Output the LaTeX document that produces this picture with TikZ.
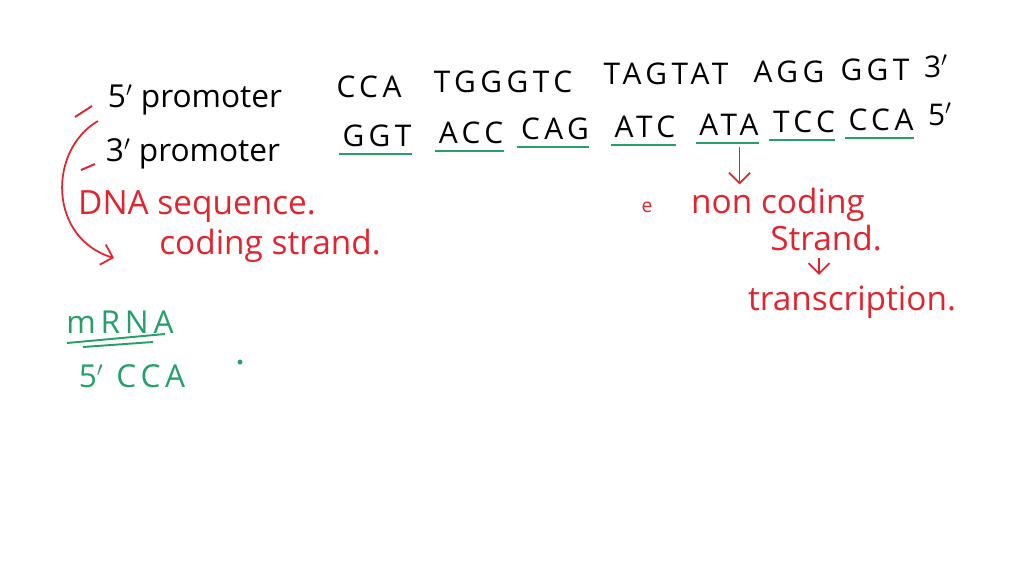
\documentclass[tikz,border=0pt]{standalone}
\usepackage{fontspec}
\setmainfont{Open Sans}
\newfontfamily\seqfont[LetterSpace=15]{Open Sans}
\definecolor{InkRed}{RGB}{226,36,46}
\definecolor{InkGreen}{RGB}{36,160,104}
\usetikzlibrary{arrows.meta,positioning}

\begin{document}
\begin{tikzpicture}[x=0.02cm,y=-0.02cm,
    seq/.style={inner sep=0pt,font=\seqfont\fontsize{17}{19}\selectfont},
    lbl/.style={inner sep=0pt,font=\fontsize{18}{20}\selectfont},
    note/.style={inner sep=0pt,text=InkRed,font=\fontsize{19}{21}\selectfont},
    rna/.style={inner sep=0pt,text=InkGreen,font=\seqfont\fontsize{18}{20}\selectfont},
    uline/.style={InkGreen,line width=1.1pt},
    arr/.style={-{Straight Barb[length=6pt,width=12pt]},InkRed,line width=1pt},
    tick/.style={InkRed,line width=1.1pt}]
    \useasboundingbox (0,0) rectangle (1024,576);

    % strand labels
    \node[lbl] (p5) at (195,100) {5$'$ promoter};
    \node[lbl] (p3) at (193,154) {3$'$ promoter};
    \draw[tick] (75,117) -- (92,106);
    \draw[tick] (81,170) -- (95,164);

    % top strand
    \foreach \name/\x/\y/\txt in {t1/369/87/CCA, t2/503/82/TGGGTC, t3/666/74/TAGTAT,
                                  t4/789/72/AGG, t5/875/70/GGT, t6/936/66/3$'$}
      \node[seq] (\name) at (\x,\y) {\txt};

    % bottom strand, codons underlined
    \foreach \name/\x/\y/\txt in {b1/377/136/GGT, b2/471/133/ACC, b3/555/129/CAG,
                                  b4/645/127/ATC, b5/729/125/ATA, b6/804/122/TCC, b7/881/120/CCA}{
      \node[seq] (\name) at (\x,\y) {\txt};
      \draw[uline] ([xshift=-2pt,yshift=-4pt]\name.south west) -- ([yshift=-4pt]\name.south east);
    }
    \node[seq] (b8) at (940,114) {5$'$};

    % red notes
    \node[note] (dna) at (197,207) {DNA sequence.};
    \node[note] (cod) at (270,246) {coding strand.};
    \coordinate (bend) at (98,121);
    \coordinate (hook) at (114,258);
    \draw[arr] (bend) .. controls (48,150) and (48,238) .. (hook);

    \node[note,font=\fontsize{11}{13}\selectfont] (stray) at (647,207) {e};
    \node[note] (nc) at (778,205) {non coding};
    \node[note] (st) at (826,238) {Strand.};
    \node[note] (tr) at (852,302) {transcription.};
    \draw[arr,shorten <=2pt,shorten >=2pt] ([xshift=6pt,yshift=-4pt]b5.south) -- ([xshift=6pt]b5.south |- nc.north);
    \draw[arr,shorten <=4pt,shorten >=6pt] ([xshift=-4pt]st.south) -- ([xshift=-4pt]st.south |- tr.north);

    % mRNA
    \node[rna] (m) at (120,322) {mRNA};
    \draw[uline] (67,343) -- (165,334);
    \draw[uline] (83,347) -- (153,342);
    \node[rna] (m5) at (132,376) {5$'$ CCA};
    \node[circle,fill=InkGreen,inner sep=1pt] (spot) at (240,362) {};
\end{tikzpicture}
\end{document}
